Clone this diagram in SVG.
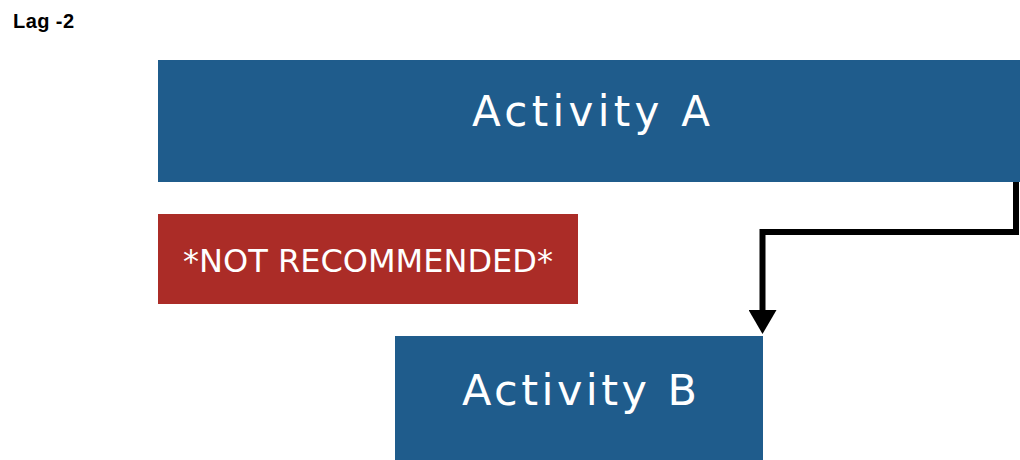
<svg xmlns="http://www.w3.org/2000/svg" width="1020" height="460" viewBox="0 0 1020 460">
<defs>
<style>
.act{fill:#1f5c8c}
.warn{fill:#ab2c27}
.lbl{fill:#ffffff;font-family:"DejaVu Sans","Liberation Sans",Arial,sans-serif;text-anchor:middle}
.conn{fill:none;stroke:#000;stroke-width:6}
</style>
<marker id="arr" markerUnits="userSpaceOnUse" markerWidth="24" markerHeight="28" refX="2" refY="14" orient="auto" viewBox="0 0 24 28">
<path d="M0,0 L24,14 L0,28 Z" fill="#000"/>
</marker>
</defs>
<rect width="1020" height="460" fill="#ffffff"/>
<text x="13" y="28" font-family="'Liberation Sans',Arial,sans-serif" font-weight="bold" font-size="20" textLength="61" fill="#000">Lag -2</text>
<g id="activity-a">
<rect class="act" x="158" y="60" width="862" height="122"/>
<text class="lbl" x="591" y="126" font-size="42" textLength="238" lengthAdjust="spacing">Activity A</text>
</g>
<g id="not-recommended">
<rect class="warn" x="158" y="214" width="420" height="90"/>
<text class="lbl" x="368" y="272" font-size="32" textLength="370">*NOT RECOMMENDED*</text>
</g>
<g id="activity-b">
<rect class="act" x="395" y="336" width="368" height="124"/>
<text class="lbl" x="579.5" y="405" font-size="43" textLength="235" lengthAdjust="spacing">Activity B</text>
</g>
<g id="connectors">
<path class="conn" d="M1016,182 V232 H762.5 V312" marker-end="url(#arr)"/>
</g>
</svg>
